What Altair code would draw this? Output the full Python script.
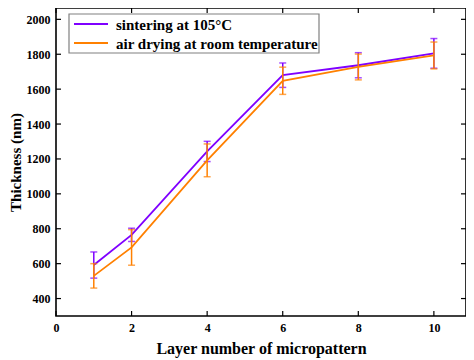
import altair as alt
import pandas as pd

# ---- data ----
layers = [1, 2, 4, 6, 8, 10]
series_names = ["sintering at 105°C", "air drying at room temperature"]
sinter = [592, 765, 1243, 1680, 1737, 1805]
sinter_err = [75, 38, 58, 70, 72, 85]
air = [530, 693, 1192, 1648, 1727, 1793]
air_err = [70, 102, 94, 78, 74, 77]
colors = ["#7f00ff", "#ff8000"]
x_ticks = [0, 2, 4, 6, 8, 10]
y_ticks = [400, 600, 800, 1000, 1200, 1400, 1600, 1800, 2000]

rows = []
for name, vals, errs in zip(series_names, [sinter, air], [sinter_err, air_err]):
    for x, v, e in zip(layers, vals, errs):
        rows.append(dict(series=name, layer=x, value=v, lo=v - e, hi=v + e))
df = pd.DataFrame(rows)

W, H = 410, 308
FONT = "Liberation Serif"
xs = alt.Scale(domain=[0, 10.85], nice=False, zero=False)
ys = alt.Scale(domain=[300, 2065], nice=False, zero=False)
cs = alt.Scale(domain=series_names, range=colors)

xaxis = alt.Axis(values=x_ticks, format="d", tickSize=0, domain=False, grid=False,
                 labelFont=FONT, labelFontWeight="bold", labelFontSize=12, labelColor="black",
                 labelPadding=6, labelFlush=False,
                 title="Layer number of micropattern", titleFont=FONT, titleFontSize=16,
                 titleFontWeight="bold", titleColor="black", titlePadding=7)
yaxis = alt.Axis(values=y_ticks, format="d", tickSize=0, domain=False, grid=False,
                 labelFont=FONT, labelFontWeight="bold", labelFontSize=12, labelColor="black",
                 labelPadding=6, labelFlush=False,
                 title="Thickness (nm)", titleFont=FONT, titleFontSize=15,
                 titleFontWeight="bold", titleColor="black", titlePadding=3)


def X(field):
    return alt.X(field, scale=xs, axis=xaxis)


def Y(field):
    return alt.Y(field, scale=ys, axis=yaxis)


layers_list = []
for name in series_names:
    b = alt.Chart(df).transform_filter(alt.datum.series == name)
    col = alt.Color("series:N", scale=cs, legend=None)
    line = b.mark_line(strokeWidth=1.8).encode(x=X("layer:Q"), y=Y("value:Q"), color=col)
    bar = b.mark_rule(strokeWidth=1.5).encode(x=X("layer:Q"), y=Y("lo:Q"), y2="hi:Q", color=col)
    cap_lo = b.mark_tick(orient="horizontal", size=7, thickness=1.5).encode(
        x=X("layer:Q"), y=Y("lo:Q"), color=col)
    cap_hi = b.mark_tick(orient="horizontal", size=7, thickness=1.5).encode(
        x=X("layer:Q"), y=Y("hi:Q"), color=col)
    layers_list += [line, bar, cap_lo, cap_hi]

# inward ticks on all four sides
ydf = pd.DataFrame({"v": y_ticks})
xdf = pd.DataFrame({"v": x_ticks})
TL = 5
tick_layers = [
    alt.Chart(ydf).mark_rule(color="black", strokeWidth=1.2).encode(
        y=Y("v:Q"), x=alt.value(0), x2=alt.value(TL)),
    alt.Chart(ydf).mark_rule(color="black", strokeWidth=1.2).encode(
        y=Y("v:Q"), x=alt.value(W - TL), x2=alt.value(W)),
    alt.Chart(xdf).mark_rule(color="black", strokeWidth=1.2).encode(
        x=X("v:Q"), y=alt.value(H - TL), y2=alt.value(H)),
    alt.Chart(xdf).mark_rule(color="black", strokeWidth=1.2).encode(
        x=X("v:Q"), y=alt.value(0), y2=alt.value(TL)),
]

# frame around the plot area
one = pd.DataFrame({"a": [0]})
frame = alt.Chart(one).mark_rect(fill=None, stroke="black", strokeWidth=1.6).encode(
    x=alt.value(0), x2=alt.value(W), y=alt.value(0), y2=alt.value(H))

# manual legend
LX = 13
legend_layers = [
    alt.Chart(one).mark_rect(fill="white", stroke="#808080", strokeWidth=1.2).encode(
        x=alt.value(LX), x2=alt.value(LX + 250), y=alt.value(6), y2=alt.value(45)),
]
for i, (name, c) in enumerate(zip(series_names, colors)):
    yy = 16 + i * 19
    legend_layers.append(alt.Chart(one).mark_rule(color=c, strokeWidth=1.8).encode(
        x=alt.value(LX + 5), x2=alt.value(LX + 39), y=alt.value(yy)))
    legend_layers.append(alt.Chart(one).mark_text(
        align="left", baseline="middle", font=FONT, fontWeight="bold", fontSize=15,
        color="black").encode(x=alt.value(LX + 47), y=alt.value(yy + 1), text=alt.value(name)))

chart = alt.layer(*layers_list, *tick_layers, frame, *legend_layers).properties(
    width=W, height=H,
    autosize=alt.AutoSizeParams(type="none"),
    padding={"left": 48, "top": 0, "right": 0, "bottom": 44},
).configure_view(stroke=None)

chart.save("out.html", embed_options={"renderer": "svg", "actions": False})
